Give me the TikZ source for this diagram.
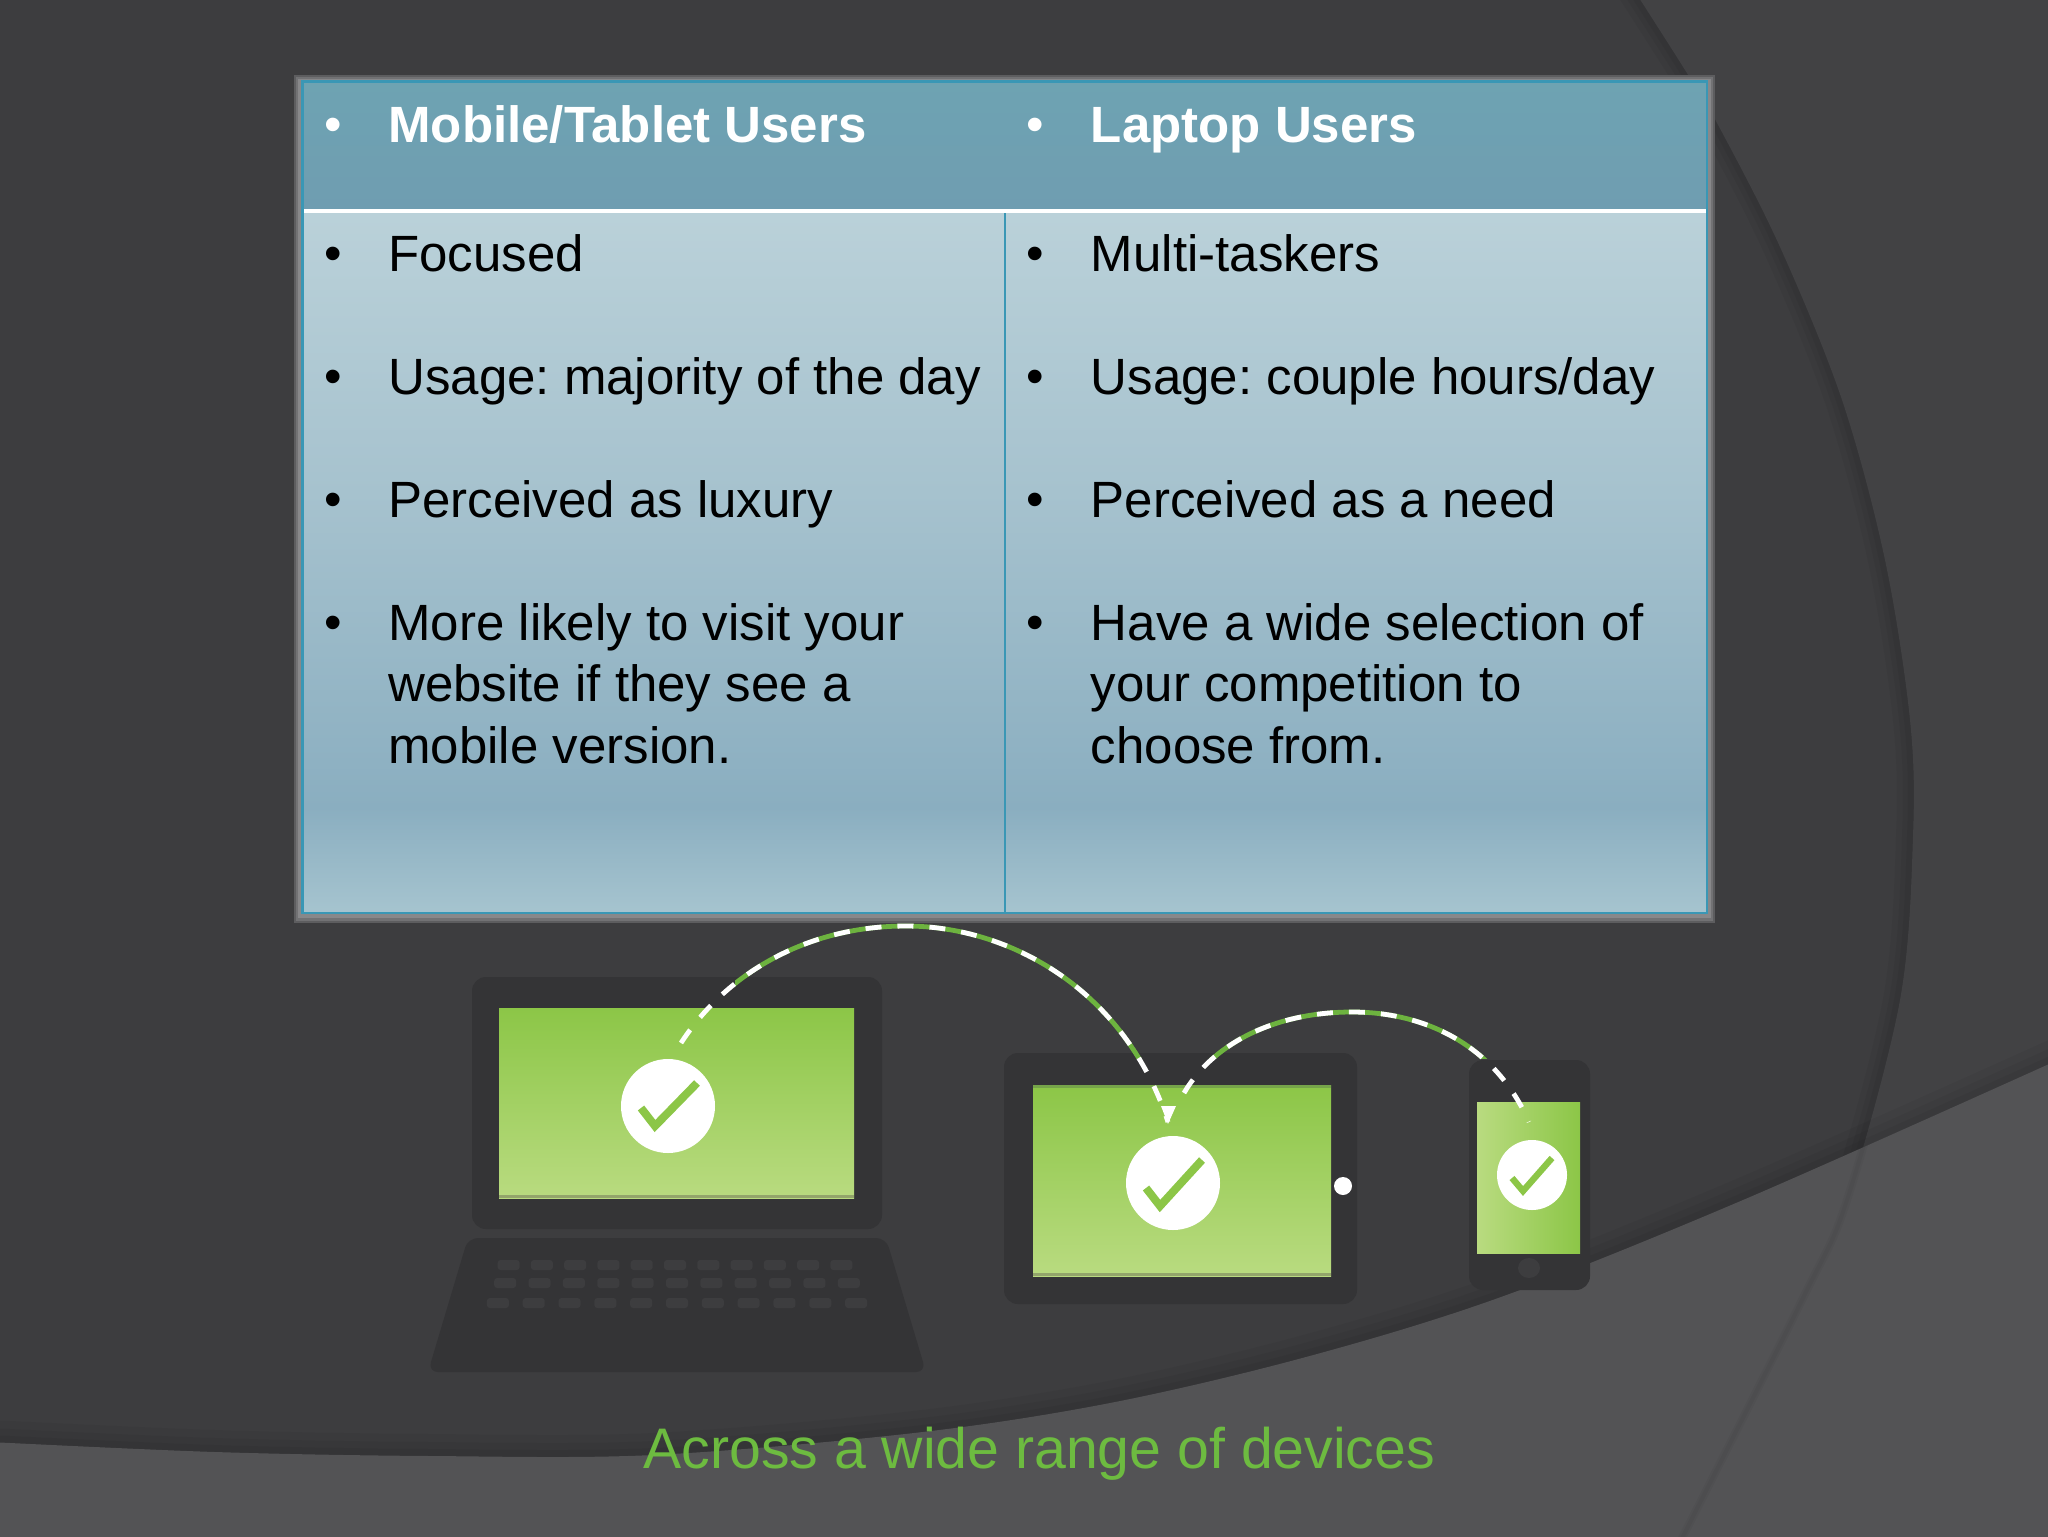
\documentclass[tikz,border=0pt]{standalone}
\usepackage{fontspec}
\setmainfont{Liberation Sans}
\frenchspacing
\usetikzlibrary{arrows.meta,shapes.geometric}
\definecolor{bgdark}{HTML}{3D3D3F}
\definecolor{bgright}{HTML}{424244}
\definecolor{bglow}{HTML}{535355}
\definecolor{bezel}{HTML}{343436}
\definecolor{keycol}{HTML}{3D3D3F}
\definecolor{tabline}{HTML}{3A97B5}
\definecolor{hdrtop}{HTML}{6EA3B2}
\definecolor{hdrbot}{HTML}{6F9DB1}
\definecolor{btop}{HTML}{BAD1D9}
\definecolor{bmid}{HTML}{A6C2CE}
\definecolor{blow}{HTML}{8AAEC0}
\definecolor{bbot}{HTML}{A6C4CF}
\definecolor{gtop}{HTML}{8CC647}
\definecolor{gbot}{HTML}{B9DB80}
\definecolor{arcgreen}{HTML}{6DB33F}
\definecolor{capgreen}{HTML}{6DBB40}
\definecolor{screenedge}{HTML}{93A56B}
\definecolor{screentop}{HTML}{76A44A}
\definecolor{glowb}{HTML}{5D5D5F}
\definecolor{glowc}{HTML}{727274}
\definecolor{glowd}{HTML}{88888A}
\pgfdeclareverticalshading{bodyshade}{100bp}{color(0bp)=(bbot); color(25bp)=(bbot); color(32.5bp)=(blow); color(55bp)=(bmid); color(75bp)=(btop); color(100bp)=(btop)}
\tikzset{
  bodytxt/.style={font=\fontsize{25.5}{30.7}\selectfont,inner sep=0pt,anchor=base west,text=black},
  hdrtxt/.style={font=\bfseries\fontsize{25.5}{30.7}\selectfont,inner sep=0pt,anchor=base west,text=white},
  bodydot/.style={font=\fontsize{25}{30.7}\selectfont,inner sep=0pt,anchor=base west,text=black},
  hdrdot/.style={font=\fontsize{25}{30.7}\selectfont,inner sep=0pt,anchor=base west,text=white},
  bezelbox/.style={fill=bezel,rounded corners=7pt},
  screenbox/.style={top color=gtop,bottom color=gbot,draw=none},
  okdisc/.style={circle,fill=white,inner sep=0pt},
  tick/.style={draw=gtop,line width=#1,line join=miter,line cap=butt},
  arcbase/.style={draw=arcgreen,line width=2.4pt},
  arcdash/.style={draw=white,line width=2.4pt,dash pattern=on 8pt off 8pt},
  softshadow/.style={draw=black,opacity=0.04},
  keyrow/.style={fill=keycol,rounded corners=1.5pt},
}
\def\lowcurve{(-10,1442) (215,1452) (431,1456) (653,1455) (914,1433) (1110,1403) (1306,1357) (1501,1297) (1743,1200) (2058,1060)}
\def\rightcurve{(1634,-10) (1685,70) (1717,123) (1780,247) (1842,400) (1885,560) (1910,720) (1913,836) (1900,1000) (1847,1200) (1802,1300) (1678,1546)}
\begin{document}
\begin{tikzpicture}[x=0.5pt,y=-0.5pt]
\useasboundingbox (0,0) rectangle (2048,1536);
% background
\fill[bgdark] (0,0) rectangle (2048,1536);
\foreach \w in {34,22,12}{\draw[softshadow,line width=\w*0.5pt] plot[smooth,tension=.55] coordinates {\rightcurve};}
\fill[bgright] plot[smooth,tension=.55] coordinates {\rightcurve} -- (2058,1546) -- (2058,-10) -- cycle;
\foreach \w in {44,28,14}{\draw[softshadow,line width=\w*0.5pt] plot[smooth,tension=.55] coordinates {\lowcurve};}
\fill[bglow] plot[smooth,tension=.55] coordinates {\lowcurve} -- (2058,1546) -- (-10,1546) -- cycle;
\begin{scope}
\clip plot[smooth,tension=.55] coordinates {\lowcurve} -- (2058,1546) -- (-10,1546) -- cycle;
\foreach \w in {8,4}{\draw[draw=black,opacity=0.03,line width=\w*0.5pt] plot[smooth,tension=.55] coordinates {\rightcurve};}
\end{scope}
% table glow
\fill[glowb] (294,75) rectangle (1715,923);
\fill[glowc] (296,77) rectangle (1713,921);
\fill[glowd] (298,79) rectangle (1711,918);
% table
\fill[top color=hdrtop,bottom color=hdrbot] (302,81) rectangle (1707,209);
\fill[shading=bodyshade] (302,213) rectangle (1707,913);
\fill[white] (303,209) rectangle (1705.5,213);
\draw[tabline,line width=1.2pt] (302.5,81.5) rectangle (1707,913);
\draw[tabline,line width=1pt] (1004.5,213) -- (1004.5,913);
% header
\node[hdrdot] (bh1) at (324,141) {•};
\node[hdrtxt] (th1) at (388,142) {Mobile/Tablet Users};
\node[hdrdot] (bh2) at (1026,141) {•};
\node[hdrtxt] (th2) at (1090.5,142) {Laptop Users};
% left column
\node[bodydot] (bl1) at (324,270) {•};
\node[bodytxt] (tl1) at (388,271) {Focused};
\node[bodydot] (bl2) at (324,393) {•};
\node[bodytxt] (tl2) at (388,394) {Usage: majority of the day};
\node[bodydot] (bl3) at (324,516) {•};
\node[bodytxt] (tl3) at (388,517) {Perceived as luxury};
\node[bodydot] (bl4) at (324,639) {•};
\node[bodytxt] (tl4a) at (388,640) {More likely to visit your};
\node[bodytxt] (tl4b) at (388,701.5) {website if they see a};
\node[bodytxt] (tl4c) at (388,763) {mobile version.};
% right column
\node[bodydot] (br1) at (1026,270) {•};
\node[bodytxt] (tr1) at (1090.5,271) {Multi-taskers};
\node[bodydot] (br2) at (1026,393) {•};
\node[bodytxt] (tr2) at (1090.5,394) {Usage: couple hours/day};
\node[bodydot] (br3) at (1026,516) {•};
\node[bodytxt] (tr3) at (1090.5,517) {Perceived as a need};
\node[bodydot] (br4) at (1026,639) {•};
\node[bodytxt] (tr4a) at (1090.5,640) {Have a wide selection of};
\node[bodytxt] (tr4b) at (1090.5,701.5) {your competition to};
\node[bodytxt] (tr4c) at (1090.5,763) {choose from.};
% laptop
\fill[bezelbox] (472,977) rectangle (882,1229);
\fill[bezel,rounded corners=5pt] (468,1238) -- (886,1238) -- (926,1372) -- (428,1372) -- cycle;
\foreach \r/\y/\xa/\xb in {1/1265/492/858,2/1283/488/866,3/1303/480/874}{
  \foreach \k in {0,...,10}{
    \pgfmathsetmacro{\kx}{\xa+(\xb-\xa)*(\k+0.5)/11}
    \fill[keyrow] (\kx-11,\y-5) rectangle (\kx+11,\y+5);
  }
}
\fill[screenbox] (499,1008) rectangle (854,1198);
\fill[screenedge] (499,1195) rectangle (854,1198);
\node[okdisc,minimum size=47pt] (lapok) at (668,1106) {};
\draw[tick=4pt] (641,1108) -- (655,1126) -- (697,1083);
% tablet
\fill[bezelbox] (1004,1053) rectangle (1357,1304);
\fill[screenbox] (1033,1085) rectangle (1331,1276);
\fill[screentop] (1033,1085) rectangle (1331,1088);
\fill[screenedge] (1033,1273) rectangle (1331,1276);
\node[okdisc,minimum size=47pt] (tabok) at (1173,1183) {};
\draw[tick=4pt] (1146,1188) -- (1160,1206) -- (1202,1160);
\node[okdisc,minimum size=9pt] (tabdot) at (1343,1186) {};
% phone
\fill[bezelbox] (1469,1060) rectangle (1590,1290);
\shade[left color=gbot,right color=gtop] (1477,1102) rectangle (1580,1253);
\node[okdisc,minimum size=35pt] (phoneok) at (1532,1175) {};
\draw[tick=3.2pt] (1512,1178) -- (1523,1191) -- (1552,1158);
\node[ellipse,fill=keycol,inner sep=0pt,minimum width=11pt,minimum height=10pt] (phonebtn) at (1529,1268) {};
% named arc ends
\coordinate (arcAstart) at (681,1043);
\coordinate (arcApeak) at (906,926);
\coordinate (arcAend) at (1168,1122);
\coordinate (arcBstart) at (1184,1093);
\coordinate (arcBpeak) at (1352,1012);
\coordinate (arcBend) at (1529,1122);
% green under-strokes, seen only above the devices
\begin{scope}
\clip (735,900) rectangle (1490,1058);
\draw[arcbase] (arcAstart) .. controls (725,975) and (805,926) .. (arcApeak) .. controls (1010,926) and (1125,990) .. (arcAend);
\draw[arcbase] (arcBstart) .. controls (1215,1040) and (1280,1012) .. (arcBpeak) .. controls (1425,1012) and (1495,1045) .. (arcBend);
\end{scope}
% white dashes
\draw[arcdash] (arcAstart) .. controls (725,975) and (805,926) .. (arcApeak) .. controls (1010,926) and (1125,990) .. (arcAend);
\draw[arcdash] (arcBstart) .. controls (1215,1040) and (1280,1012) .. (arcBpeak) .. controls (1425,1012) and (1495,1045) .. (arcBend);
\fill[white] (1161,1106) -- (1176,1106) -- (1168,1124) -- cycle;
% caption
\node[inner sep=0pt,anchor=base west,text=capgreen,font=\fontsize{28.6}{32}\selectfont] (caption) at (643,1468) {Across a wide range of devices};
\end{tikzpicture}
\end{document}
